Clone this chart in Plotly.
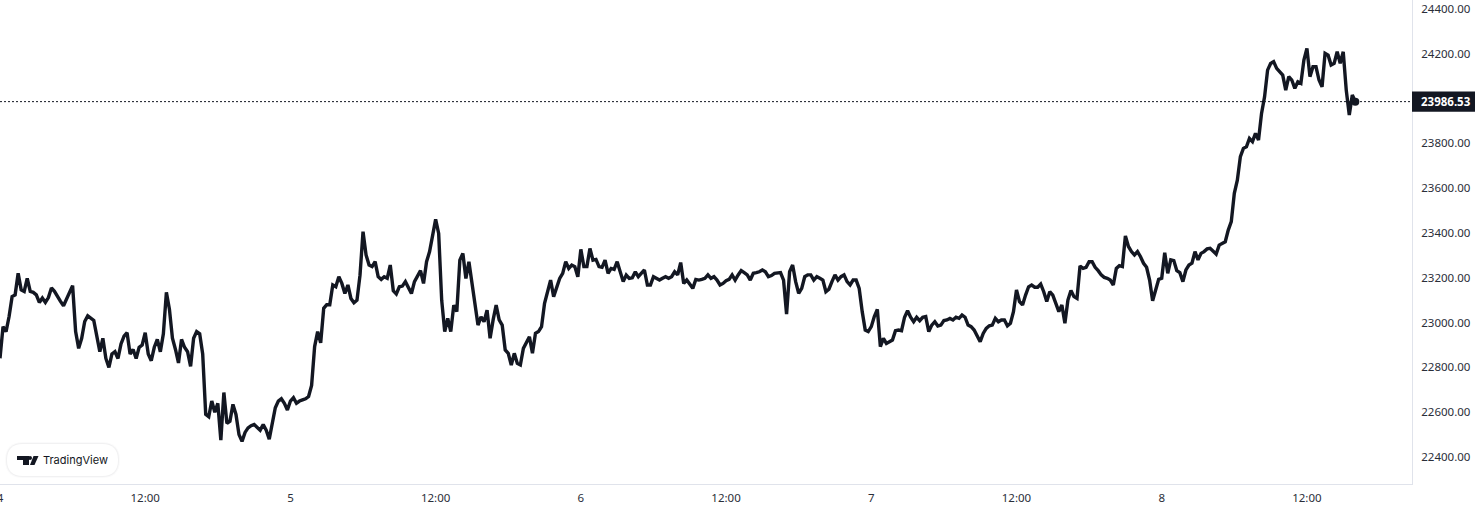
import pandas as pd
import plotly.graph_objects as go

# 15 minute closes, starting 4 Aug 00:00
prices = [
    22841, 22982, 22960, 23027, 23116, 23124, 23220, 23146, 23139, 23198,
    23139, 23135, 23124, 23090, 23110, 23090, 23112, 23155, 23140, 23115,
    23095, 23075, 23105, 23135, 23165, 22960, 22885, 22930, 23005, 23030,
    23020, 23010, 22940, 22870, 22930, 22840, 22800, 22860, 22870, 22840,
    22905, 22940, 22955, 22860, 22880, 22840, 22890, 22900, 22955, 22860,
    22830, 22890, 22925, 22870, 22950, 23135, 23060, 22930, 22880, 22820,
    22925, 22890, 22870, 22805, 22930, 22960, 22950, 22860, 22590, 22580,
    22650, 22600, 22640, 22475, 22688, 22550, 22560, 22635, 22590, 22500,
    22470, 22510, 22530, 22540, 22545, 22530, 22520, 22545, 22520, 22480,
    22560, 22620, 22650, 22660, 22640, 22610, 22650, 22665, 22640, 22650,
    22655, 22660, 22670, 22720, 22893, 22960, 22910, 23064, 23080, 23080,
    23168, 23160, 23205, 23175, 23130, 23168, 23108, 23089, 23100, 23212,
    23406, 23302, 23257, 23250, 23272, 23205, 23193, 23205, 23198, 23257,
    23142, 23128, 23160, 23163, 23183, 23153, 23130, 23183, 23212, 23232,
    23175, 23272, 23317, 23383, 23461, 23398, 23100, 22960, 23019, 22960,
    23078, 23049, 23279, 23309, 23197, 23272, 23183, 23101, 22989, 23026,
    23004, 23056, 22930, 23012, 23078, 23012, 22989, 22878, 22863, 22811,
    22863, 22818, 22811, 22885, 22915, 22937, 22863, 22952, 22960, 22982,
    23086, 23145, 23190, 23116, 23153, 23197, 23220, 23272, 23242, 23257,
    23250, 23205, 23327, 23250, 23250, 23331, 23279, 23282, 23250, 23247,
    23279, 23220, 23242, 23238, 23272, 23227, 23183, 23212, 23197, 23200,
    23227, 23205, 23220, 23235, 23168, 23168, 23205, 23197, 23190, 23198,
    23205, 23198, 23205, 23227, 23213, 23268, 23175, 23190, 23168, 23153,
    23193, 23190, 23193, 23198, 23213, 23198, 23205, 23190, 23168, 23175,
    23187, 23193, 23213, 23190, 23213, 23232, 23223, 23213, 23190, 23220,
    23223, 23227, 23235, 23227, 23205, 23210, 23220, 23220, 23223, 23190,
    23038, 23227, 23257, 23183, 23131, 23153, 23205, 23213, 23213, 23190,
    23205, 23198, 23190, 23138, 23149, 23183, 23213, 23190, 23205, 23213,
    23183, 23168, 23190, 23190, 23153, 23049, 22967, 22960, 22982, 23027,
    23059, 22893, 22930, 22907, 22915, 22922, 22964, 22967, 22964, 23024,
    23053, 23024, 23004, 23024, 23009, 23024, 23027, 22960, 22989, 23004,
    22985, 22989, 23009, 23012, 23019, 23012, 23024, 23019, 23034, 23024,
    22989, 22982, 22967, 22937, 22915, 22952, 22974, 22986, 22989, 23019,
    23004, 23012, 23012, 22986, 22997, 23049, 23146, 23094, 23079, 23123,
    23160, 23168, 23158, 23158, 23172, 23138, 23094, 23138, 23123, 23086,
    23049, 23079, 22997, 23101, 23143, 23116, 23108, 23253, 23242, 23247,
    23272, 23272, 23247, 23232, 23213, 23202, 23198, 23190, 23168, 23242,
    23254, 23250, 23387, 23340, 23317, 23302, 23317, 23294, 23265, 23247,
    23190, 23098, 23146, 23193, 23198, 23312, 23220, 23280, 23277, 23232,
    23223, 23183, 23235, 23257, 23265, 23317, 23280, 23309, 23317, 23329,
    23332, 23321, 23306, 23346, 23354, 23361, 23413, 23451, 23577, 23636,
    23741, 23778, 23785, 23822, 23808, 23845, 23815, 23934, 24008, 24127,
    24157, 24165, 24135, 24120, 24105, 24038, 24098, 24083, 24046, 24075,
    24068, 24172, 24224, 24098, 24142, 24142, 24083, 24053, 24202, 24194,
    24150, 24157, 24209, 24157, 24209, 24038, 23927, 24016, 23986.53,
]
last_price = 23986.53

tick_dates = ["2022-08-04 00:00", "2022-08-04 12:00", "2022-08-05 00:00", "2022-08-05 12:00",
              "2022-08-06 00:00", "2022-08-06 12:00", "2022-08-07 00:00", "2022-08-07 12:00",
              "2022-08-08 00:00", "2022-08-08 12:00"]
tick_labels = ["4", "12:00", "5", "12:00", "6", "12:00", "7", "12:00", "8", "12:00"]
# 24000 sits behind the last price box, so it has no label
price_ticks = [22400, 22600, 22800, 23000, 23200, 23400, 23600, 23800, 24200, 24400]

line_color = "#131722"
border_color = "#e0e3eb"
label_color = "#2a2e39"
font_name = "Noto Sans"

times = pd.date_range("2022-08-04 00:00", periods=len(prices), freq="15min")

fig = go.Figure()
fig.add_trace(go.Scatter(x=times, y=prices, mode="lines",
                         line=dict(color=line_color, width=3.4), hoverinfo="skip"))
# round dot on the last close
fig.add_trace(go.Scatter(x=[times[-1]], y=[prices[-1]], mode="markers",
                         marker=dict(color=line_color, size=8), hoverinfo="skip"))


def pixel_shape(path, **style):
    return dict(type="path", path=path, xref="paper", yref="paper",
                xsizemode="pixel", ysizemode="pixel", xanchor=0, yanchor=1, **style)


def pill(x0, y0, x1, y1):
    # y is counted upward from the top of the plot, so these are negative
    r = (y0 - y1) / 2
    return (f"M {x0 + r} {y0} L {x1 - r} {y0} Q {x1} {y0} {x1} {y0 - r} Q {x1} {y1} {x1 - r} {y1} "
            f"L {x0 + r} {y1} Q {x0} {y1} {x0} {y0 - r} Q {x0} {y0} {x0 + r} {y0} Z")


# soft shadow then the white badge
for grow, alpha in [(2, 0.02), (1, 0.04)]:
    fig.add_shape(pixel_shape(pill(7 - grow, -444 + grow, 118 + grow, -476 - grow),
                              fillcolor=f"rgba(19,23,34,{alpha})", line=dict(width=0)))
fig.add_shape(pixel_shape(pill(7, -444, 118, -476), fillcolor="white", line=dict(width=0)))
# TradingView mark
fig.add_shape(pixel_shape("M 17 -456 L 29 -456 L 29 -465 L 23 -465 L 23 -460 L 17 -460 Z",
                          fillcolor=line_color, line=dict(width=0)))
fig.add_shape(pixel_shape("M 33.5 -456 L 38.5 -456 L 34.5 -465 L 30 -465 Z",
                          fillcolor=line_color, line=dict(width=0)))
fig.add_shape(pixel_shape("M 28 -458 Q 28 -456 30 -456 Q 32 -456 32 -458 Q 32 -460 30 -460 Q 28 -460 28 -458 Z",
                          fillcolor=line_color, line=dict(width=0)))

# last price line and the dark box behind its label
fig.add_shape(type="line", xref="paper", yref="y", x0=0, x1=1, y0=last_price, y1=last_price,
              line=dict(color="#131722", width=1, dash="2px,2px"))
fig.add_shape(type="rect", xref="paper", yref="y", x0=1, x1=1.0447,
              y0=last_price - 45, y1=last_price + 45,
              fillcolor=line_color, line=dict(width=0))

fig.add_annotation(xref="paper", yref="y", x=1, y=last_price, xanchor="left", xshift=7,
                   text=f"<b>{last_price:.2f}</b>", showarrow=False,
                   font=dict(color="white", size=11.5, family=font_name))
fig.add_annotation(xref="paper", yref="paper", x=0, y=1, xanchor="left", yanchor="middle",
                   xshift=41, yshift=-460, text="TradingView", showarrow=False,
                   font=dict(color=line_color, size=11, family="Inter"))

fig.update_layout(
    width=1475, height=510,
    # no autoexpand: the half cut "4" at the left edge must not push the plot in
    margin=dict(l=0, r=63, t=0, b=26, autoexpand=False),
    paper_bgcolor="white", plot_bgcolor="white",
    showlegend=False,
    font=dict(family=font_name, size=11.5, color=label_color),
    xaxis=dict(range=["2022-08-04 00:00", "2022-08-08 20:41"], showgrid=False, zeroline=False,
               tickmode="array", tickvals=tick_dates, ticktext=tick_labels,
               ticks="outside", ticklen=3, tickcolor="rgba(0,0,0,0)", tickangle=0,
               ticklabeloverflow="allow",
               showline=True, linecolor=border_color, linewidth=1),
    yaxis=dict(range=[22279.6, 24440.2], side="right", showgrid=False, zeroline=False,
               tickmode="array", tickvals=price_ticks, tickformat=".2f",
               ticks="outside", ticklen=6, tickcolor="rgba(0,0,0,0)",
               ticklabeloverflow="allow",
               showline=True, linecolor=border_color, linewidth=1),
)

# the page margin would push the chart 8px off the window
fig.write_html("out.html", config={"displayModeBar": False},
               post_script="document.body.style.margin='0';")
